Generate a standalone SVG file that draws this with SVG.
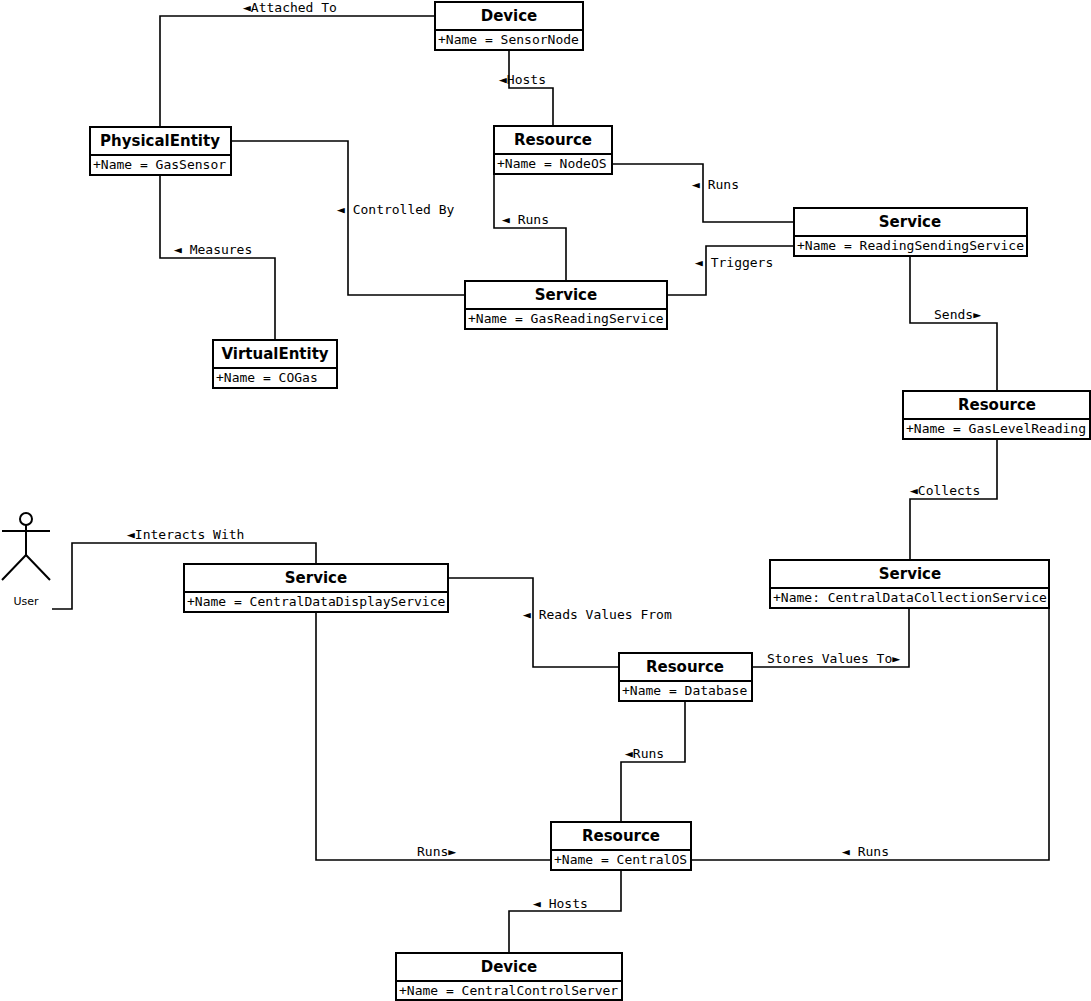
<svg xmlns="http://www.w3.org/2000/svg" width="1091" height="1001" viewBox="0 0 1091 1001">
<style>
rect{fill:#fff;stroke:#000;stroke-width:2}
line.d{stroke:#000;stroke-width:2}
.t{font-family:"DejaVu Sans",sans-serif;font-weight:bold;font-size:15px;text-anchor:middle}
.a{font-family:"DejaVu Sans Mono",monospace;font-size:13px}
.l{font-family:"DejaVu Sans Mono",monospace;font-size:13px}
#conn polyline{fill:none;stroke:#000;stroke-width:1.6}
.act{fill:none;stroke:#000;stroke-width:2}
</style>
<rect x="0" y="0" width="1091" height="1001" style="stroke:none"/>
<g id="conn">
<polyline points="160,127 160,16 435,16"/>
<polyline points="509,50 509,88 553,88 553,126"/>
<polyline points="231,141 348,141 348,295 465,295"/>
<polyline points="160,175 160,258 275,258 275,340"/>
<polyline points="612,164 703,164 703,222 794,222"/>
<polyline points="494,174 494,228 566,228 566,281"/>
<polyline points="667,295 706,295 706,246 794,246"/>
<polyline points="910,256 910,323 997,323 997,391"/>
<polyline points="997,439 997,499 910,499 910,560"/>
<polyline points="52,609 72,609 72,543 316,543 316,564"/>
<polyline points="448,578 533,578 533,667 619,667"/>
<polyline points="752,667 909,667 909,608"/>
<polyline points="685,701 685,762 621,762 621,822"/>
<polyline points="316,612 316,860 551,860"/>
<polyline points="1049,608 1049,860 691,860"/>
<polyline points="621,870 621,911 509,911 509,953"/>
<text class="l" x="243" y="12">◄Attached To</text>
<text class="l" x="499" y="84">◄Hosts</text>
<text class="l" x="337" y="214">◄ Controlled By</text>
<text class="l" x="174" y="254">◄ Measures</text>
<text class="l" x="692" y="189">◄ Runs</text>
<text class="l" x="502" y="224">◄ Runs</text>
<text class="l" x="695" y="267">◄ Triggers</text>
<text class="l" x="934" y="319">Sends►</text>
<text class="l" x="910" y="495">◄Collects</text>
<text class="l" x="127" y="539">◄Interacts With</text>
<text class="l" x="523" y="619">◄ Reads Values From</text>
<text class="l" x="767" y="663">Stores Values To►</text>
<text class="l" x="625" y="758">◄Runs</text>
<text class="l" x="417" y="856">Runs►</text>
<text class="l" x="842" y="856">◄ Runs</text>
<text class="l" x="533" y="908">◄ Hosts</text>
</g>
<g id="actor">
<circle class="act" cx="26" cy="519" r="6"/>
<polyline class="act" points="26,525 26,555"/>
<polyline class="act" points="2,531 50,531"/>
<polyline class="act" points="2,580 26,555 50,580"/>
<text x="26" y="605" style="font-family:'DejaVu Sans',sans-serif;font-size:11px;text-anchor:middle">User</text>
</g>
<g id="device1"><rect x="435" y="2" width="148" height="48"/><line class="d" x1="435" y1="30" x2="583" y2="30"/><text class="t" x="509" y="21">Device</text><text class="a" x="438" y="44">+Name = SensorNode</text></g>
<g id="physical"><rect x="90" y="127" width="141" height="48"/><line class="d" x1="90" y1="155" x2="231" y2="155"/><text class="t" x="160" y="146">PhysicalEntity</text><text class="a" x="93" y="169">+Name = GasSensor</text></g>
<g id="nodeos"><rect x="494" y="126" width="118" height="48"/><line class="d" x1="494" y1="154" x2="612" y2="154"/><text class="t" x="553" y="145">Resource</text><text class="a" x="497" y="168">+Name = NodeOS</text></g>
<g id="readingsend"><rect x="794" y="208" width="233" height="48"/><line class="d" x1="794" y1="236" x2="1027" y2="236"/><text class="t" x="910" y="227">Service</text><text class="a" x="797" y="250">+Name = ReadingSendingService</text></g>
<g id="gasreading"><rect x="465" y="281" width="202" height="48"/><line class="d" x1="465" y1="309" x2="667" y2="309"/><text class="t" x="566" y="300">Service</text><text class="a" x="468" y="323">+Name = GasReadingService</text></g>
<g id="virtual"><rect x="213" y="340" width="124" height="48"/><line class="d" x1="213" y1="368" x2="337" y2="368"/><text class="t" x="275" y="359">VirtualEntity</text><text class="a" x="216" y="382">+Name = COGas</text></g>
<g id="gaslevel"><rect x="903" y="391" width="187" height="48"/><line class="d" x1="903" y1="419" x2="1090" y2="419"/><text class="t" x="997" y="410">Resource</text><text class="a" x="906" y="433">+Name = GasLevelReading</text></g>
<g id="display"><rect x="184" y="564" width="264" height="48"/><line class="d" x1="184" y1="592" x2="448" y2="592"/><text class="t" x="316" y="583">Service</text><text class="a" x="187" y="606">+Name = CentralDataDisplayService</text></g>
<g id="collection"><rect x="770" y="560" width="279" height="48"/><line class="d" x1="770" y1="588" x2="1049" y2="588"/><text class="t" x="910" y="579">Service</text><text class="a" x="773" y="602">+Name: CentralDataCollectionService</text></g>
<g id="database"><rect x="619" y="653" width="133" height="48"/><line class="d" x1="619" y1="681" x2="752" y2="681"/><text class="t" x="685" y="672">Resource</text><text class="a" x="622" y="695">+Name = Database</text></g>
<g id="centralos"><rect x="551" y="822" width="140" height="48"/><line class="d" x1="551" y1="850" x2="691" y2="850"/><text class="t" x="621" y="841">Resource</text><text class="a" x="554" y="864">+Name = CentralOS</text></g>
<g id="device2"><rect x="396" y="953" width="226" height="47"/><line class="d" x1="396" y1="981" x2="622" y2="981"/><text class="t" x="509" y="972">Device</text><text class="a" x="399" y="995">+Name = CentralControlServer</text></g>
</svg>
